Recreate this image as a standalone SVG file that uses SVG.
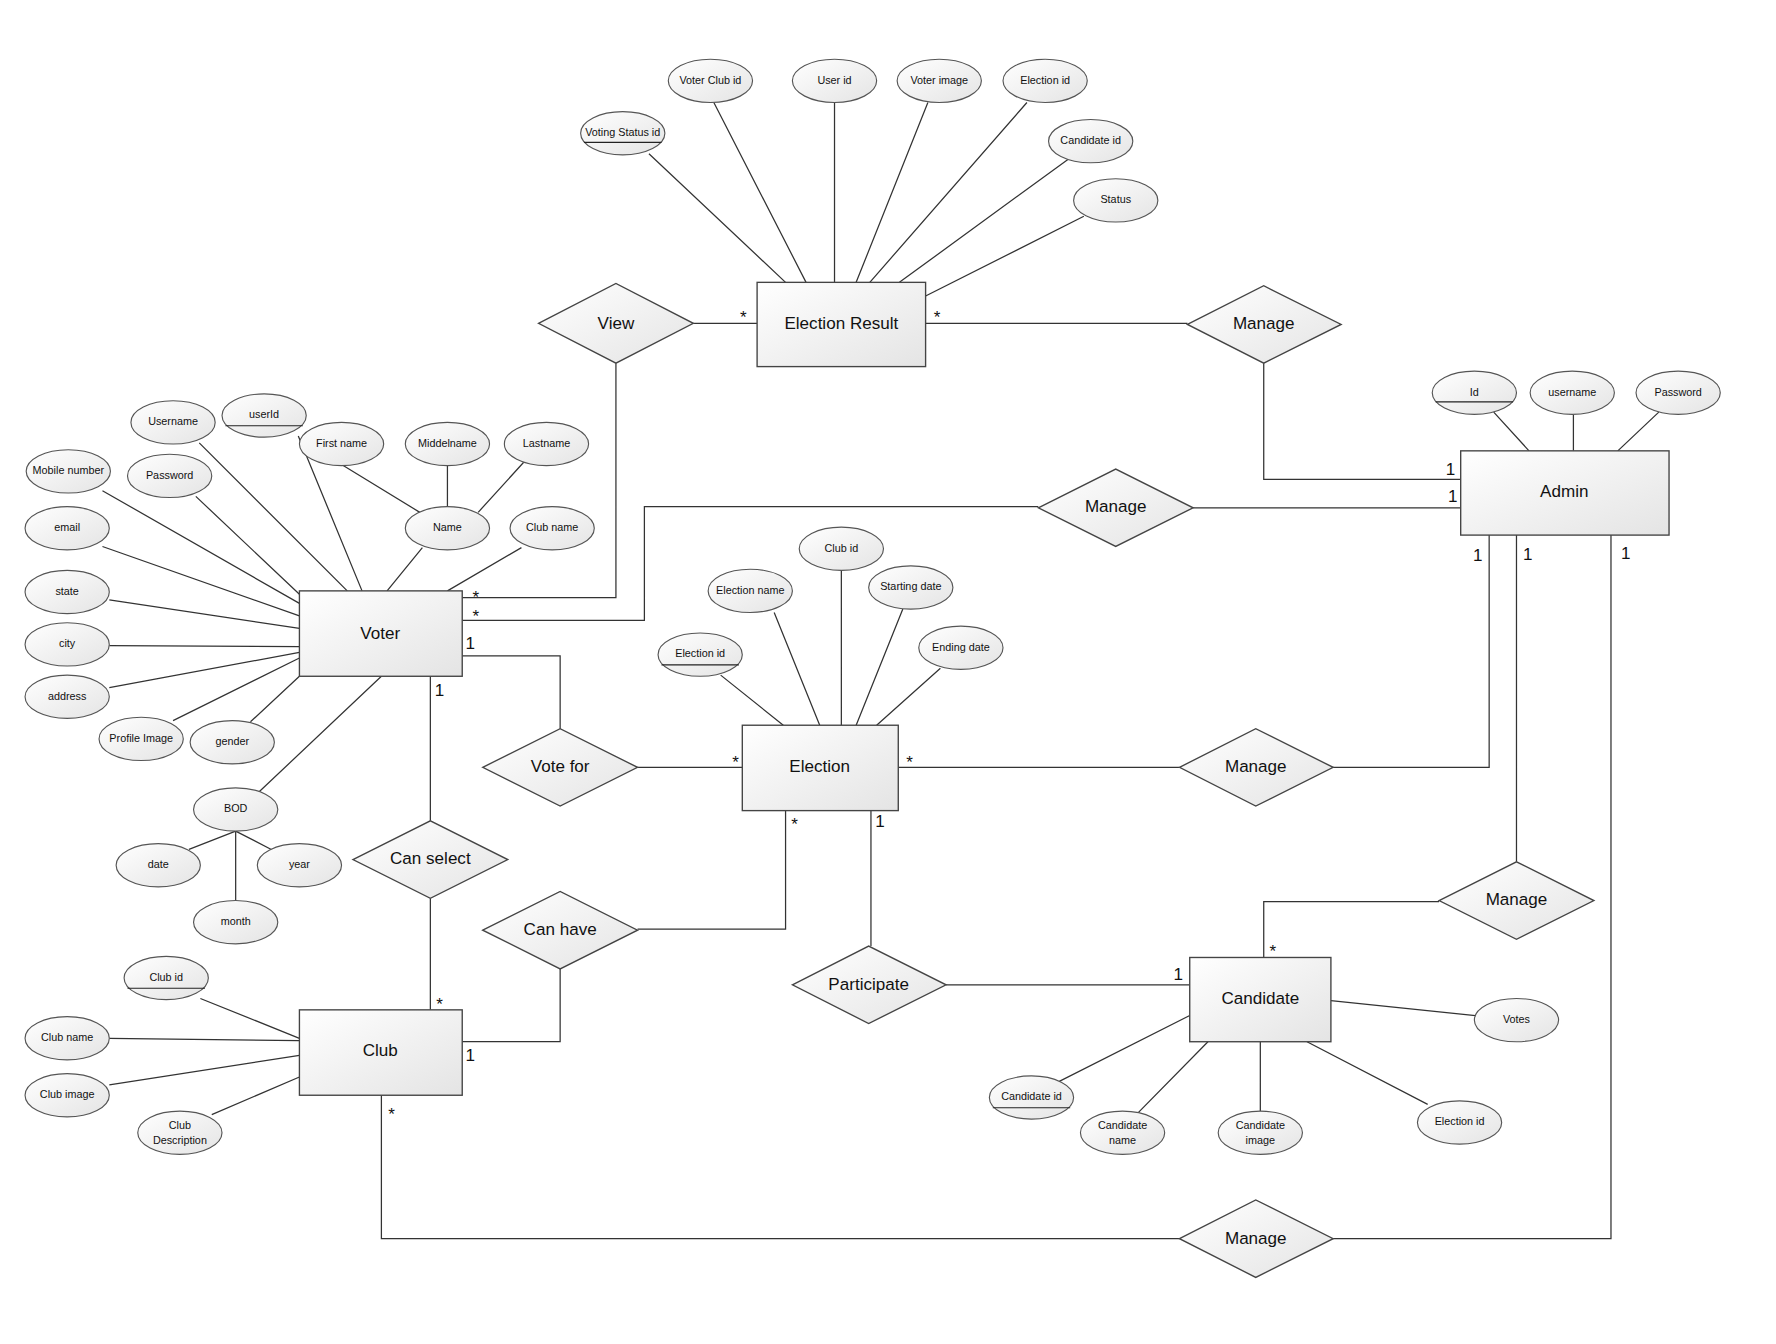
<svg xmlns="http://www.w3.org/2000/svg" width="1776" height="1344" viewBox="0 0 1776 1344">
<style>
.e{fill:url(#g);stroke:#444;stroke-width:1.2}
.a{fill:url(#g);stroke:#555;stroke-width:1}
.t{font-family:"Liberation Sans",Arial,sans-serif;font-size:15px;fill:#111;text-anchor:middle;dominant-baseline:middle}
.s{font-family:"Liberation Sans",Arial,sans-serif;font-size:9.5px;fill:#111;text-anchor:middle;dominant-baseline:middle}
.c{fill:none;stroke:#333;stroke-width:1.1}
.m{font-family:"Liberation Sans",Arial,sans-serif;font-size:15px;fill:#111;text-anchor:middle}
.u{stroke:#222;stroke-width:1}
</style>
<defs>
<linearGradient id="g" x1="0" y1="0" x2="1" y2="1"><stop offset="0" stop-color="#ffffff"/><stop offset="1" stop-color="#e4e4e4"/></linearGradient>
</defs>
<rect width="1776" height="1344" fill="#fff"/>
<g transform="scale(1.1385)">
<g id="connectors">
<path class="c" d="M570,135L690,248M627,90L708,248M733,90L733,248M815,90L752,248M902,90L764,248M938,140L790,248M952,190L813,260"/>
<path class="c" d="M1312,362L1343,396M1382,364L1382,396M1457,362L1421,396"/>
<path class="c" d="M175,389L305,519M262,383L318,519M371,481L340,519M458,481L393,519M90,431L263,530M172,436L263,522M90,480L263,541M96,527L263,552M96,567L263,568M96,604L263,573M152,633L263,578M220,634L263,594M226,697L335,594M300,408L372,452M393,409L393,445M460,406L420,450M207,730L166,746M207,730L207,791M207,730L240,747"/>
<path class="c" d="M633,593L688,637M680,538L720,637M739,501L739,637M793,535L752,637M826,587L770,637"/>
<path class="c" d="M930,950L1045,892M1000,977L1061,915M1107,976L1107,915M1254,970L1148,915M1296,892L1169,879"/>
<path class="c" d="M176,877L263,912M96,912L263,914M96,953L263,927M186,979L263,946"/>
<path class="c" d="M609,284H665M813,284H1043M1110,319V421H1283M541,319V525H406M912,445H566V545H406M1048,446H1283M406,576H492V640M560,674H652M789,674H1036M1171,674H1308V470M378,594V721M378,789V887M406,915H492V851M560,816H690V712M765,712V831M831,865H1045M1110,841V792H1264M1332,757V470M335,962V1088H1036M1171,1088H1415V470"/>
<g class="m">
<text x="653" y="284">*</text><text x="823" y="284">*</text><text x="1274" y="417">1</text><text x="418" y="530">*</text><text x="418" y="546">*</text><text x="1276" y="441">1</text><text x="413" y="570">1</text><text x="646" y="675">*</text><text x="799" y="675">*</text><text x="1298" y="493">1</text><text x="386" y="611">1</text><text x="386" y="887">*</text><text x="413" y="932">1</text><text x="698" y="729">*</text><text x="773" y="726">1</text><text x="1035" y="861">1</text><text x="1118" y="841">*</text><text x="1342" y="492">1</text><text x="344" y="984">*</text><text x="1428" y="491">1</text>
</g>
</g>
<g id="election-result"><rect class="e" x="665" y="248" width="148" height="74"/><text class="t" x="739" y="285">Election Result</text></g>
<g id="admin"><rect class="e" x="1283" y="396" width="183" height="74"/><text class="t" x="1374" y="433">Admin</text></g>
<g id="voter"><rect class="e" x="263" y="519" width="143" height="75"/><text class="t" x="334" y="557">Voter</text></g>
<g id="election"><rect class="e" x="652" y="637" width="137" height="75"/><text class="t" x="720" y="674">Election</text></g>
<g id="club"><rect class="e" x="263" y="887" width="143" height="75"/><text class="t" x="334" y="924">Club</text></g>
<g id="candidate"><rect class="e" x="1045" y="841" width="124" height="74"/><text class="t" x="1107" y="878">Candidate</text></g>
<g id="view"><polygon class="e" points="473,284 541,249 609,284 541,319"/><text class="t" x="541" y="285">View</text></g>
<g id="manage-result"><polygon class="e" points="1043,285 1110,251 1178,285 1110,319"/><text class="t" x="1110" y="285">Manage</text></g>
<g id="manage-voter"><polygon class="e" points="912,446 980,412 1048,446 980,480"/><text class="t" x="980" y="446">Manage</text></g>
<g id="vote-for"><polygon class="e" points="424,674 492,640 560,674 492,708"/><text class="t" x="492" y="674">Vote for</text></g>
<g id="manage-election"><polygon class="e" points="1036,674 1103,640 1171,674 1103,708"/><text class="t" x="1103" y="674">Manage</text></g>
<g id="can-select"><polygon class="e" points="310,755 378,721 446,755 378,789"/><text class="t" x="378" y="755">Can select</text></g>
<g id="can-have"><polygon class="e" points="424,817 492,783 560,817 492,851"/><text class="t" x="492" y="817">Can have</text></g>
<g id="manage-candidate"><polygon class="e" points="1264,791 1332,757 1400,791 1332,825"/><text class="t" x="1332" y="791">Manage</text></g>
<g id="participate"><polygon class="e" points="696,865 763,831 831,865 763,899"/><text class="t" x="763" y="866">Participate</text></g>
<g id="manage-club"><polygon class="e" points="1036,1088 1103,1054 1171,1088 1103,1122"/><text class="t" x="1103" y="1089">Manage</text></g>
<g id="attr-voting-status-id"><ellipse class="a" cx="547" cy="117" rx="37" ry="19"/><line class="u" x1="513" y1="125" x2="581" y2="125"/><text class="s" x="547" y="117">Voting Status id</text></g>
<g id="attr-voter-club-id"><ellipse class="a" cx="624" cy="71" rx="37" ry="19"/><text class="s" x="624" y="71">Voter Club id</text></g>
<g id="attr-user-id"><ellipse class="a" cx="733" cy="71" rx="37" ry="19"/><text class="s" x="733" y="71">User id</text></g>
<g id="attr-voter-image"><ellipse class="a" cx="825" cy="71" rx="37" ry="19"/><text class="s" x="825" y="71">Voter image</text></g>
<g id="attr-er-election-id"><ellipse class="a" cx="918" cy="71" rx="37" ry="19"/><text class="s" x="918" y="71">Election id</text></g>
<g id="attr-er-candidate-id"><ellipse class="a" cx="958" cy="124" rx="37" ry="19"/><text class="s" x="958" y="124">Candidate id</text></g>
<g id="attr-status"><ellipse class="a" cx="980" cy="176" rx="37" ry="19"/><text class="s" x="980" y="176">Status</text></g>
<g id="attr-admin-id"><ellipse class="a" cx="1295" cy="345" rx="37" ry="19"/><line class="u" x1="1261" y1="353" x2="1329" y2="353"/><text class="s" x="1295" y="345">Id</text></g>
<g id="attr-admin-username"><ellipse class="a" cx="1381" cy="345" rx="37" ry="19"/><text class="s" x="1381" y="345">username</text></g>
<g id="attr-admin-password"><ellipse class="a" cx="1474" cy="345" rx="37" ry="19"/><text class="s" x="1474" y="345">Password</text></g>
<g id="attr-username"><ellipse class="a" cx="152" cy="371" rx="37" ry="19"/><text class="s" x="152" y="371">Username</text></g>
<g id="attr-userid"><ellipse class="a" cx="232" cy="365" rx="37" ry="19"/><line class="u" x1="198" y1="374" x2="266" y2="374"/><text class="s" x="232" y="365">userId</text></g>
<g id="attr-first-name"><ellipse class="a" cx="300" cy="390" rx="37" ry="19"/><text class="s" x="300" y="390">First name</text></g>
<g id="attr-middelname"><ellipse class="a" cx="393" cy="390" rx="37" ry="19"/><text class="s" x="393" y="390">Middelname</text></g>
<g id="attr-lastname"><ellipse class="a" cx="480" cy="390" rx="37" ry="19"/><text class="s" x="480" y="390">Lastname</text></g>
<g id="attr-mobile"><ellipse class="a" cx="60" cy="414" rx="37" ry="19"/><text class="s" x="60" y="414">Mobile number</text></g>
<g id="attr-password"><ellipse class="a" cx="149" cy="418" rx="37" ry="19"/><text class="s" x="149" y="418">Password</text></g>
<g id="attr-name"><ellipse class="a" cx="393" cy="464" rx="37" ry="19"/><text class="s" x="393" y="464">Name</text></g>
<g id="attr-voter-club-name"><ellipse class="a" cx="485" cy="464" rx="37" ry="19"/><text class="s" x="485" y="464">Club name</text></g>
<g id="attr-email"><ellipse class="a" cx="59" cy="464" rx="37" ry="19"/><text class="s" x="59" y="464">email</text></g>
<g id="attr-state"><ellipse class="a" cx="59" cy="520" rx="37" ry="19"/><text class="s" x="59" y="520">state</text></g>
<g id="attr-city"><ellipse class="a" cx="59" cy="566" rx="37" ry="19"/><text class="s" x="59" y="566">city</text></g>
<g id="attr-address"><ellipse class="a" cx="59" cy="612" rx="37" ry="19"/><text class="s" x="59" y="612">address</text></g>
<g id="attr-profile-image"><ellipse class="a" cx="124" cy="649" rx="37" ry="19"/><text class="s" x="124" y="649">Profile Image</text></g>
<g id="attr-gender"><ellipse class="a" cx="204" cy="652" rx="37" ry="19"/><text class="s" x="204" y="652">gender</text></g>
<g id="attr-bod"><ellipse class="a" cx="207" cy="711" rx="37" ry="19"/><text class="s" x="207" y="711">BOD</text></g>
<g id="attr-date"><ellipse class="a" cx="139" cy="760" rx="37" ry="19"/><text class="s" x="139" y="760">date</text></g>
<g id="attr-year"><ellipse class="a" cx="263" cy="760" rx="37" ry="19"/><text class="s" x="263" y="760">year</text></g>
<g id="attr-month"><ellipse class="a" cx="207" cy="810" rx="37" ry="19"/><text class="s" x="207" y="810">month</text></g>
<g id="attr-election-id"><ellipse class="a" cx="615" cy="575" rx="37" ry="19"/><line class="u" x1="581" y1="584" x2="649" y2="584"/><text class="s" x="615" y="575">Election id</text></g>
<g id="attr-election-name"><ellipse class="a" cx="659" cy="519" rx="37" ry="19"/><text class="s" x="659" y="519">Election name</text></g>
<g id="attr-club-id-e"><ellipse class="a" cx="739" cy="482" rx="37" ry="19"/><text class="s" x="739" y="482">Club id</text></g>
<g id="attr-starting-date"><ellipse class="a" cx="800" cy="516" rx="37" ry="19"/><text class="s" x="800" y="516">Starting date</text></g>
<g id="attr-ending-date"><ellipse class="a" cx="844" cy="569" rx="37" ry="19"/><text class="s" x="844" y="569">Ending date</text></g>
<g id="attr-candidate-id"><ellipse class="a" cx="906" cy="964" rx="37" ry="19"/><line class="u" x1="872" y1="973" x2="940" y2="973"/><text class="s" x="906" y="964">Candidate id</text></g>
<g id="attr-candidate-name"><ellipse class="a" cx="986" cy="995" rx="37" ry="19"/><text class="s" x="986" y="989">Candidate</text><text class="s" x="986" y="1002">name</text></g>
<g id="attr-candidate-image"><ellipse class="a" cx="1107" cy="995" rx="37" ry="19"/><text class="s" x="1107" y="989">Candidate</text><text class="s" x="1107" y="1002">image</text></g>
<g id="attr-c-election-id"><ellipse class="a" cx="1282" cy="986" rx="37" ry="19"/><text class="s" x="1282" y="986">Election id</text></g>
<g id="attr-votes"><ellipse class="a" cx="1332" cy="896" rx="37" ry="19"/><text class="s" x="1332" y="896">Votes</text></g>
<g id="attr-club-id"><ellipse class="a" cx="146" cy="859" rx="37" ry="19"/><line class="u" x1="112" y1="868" x2="180" y2="868"/><text class="s" x="146" y="859">Club id</text></g>
<g id="attr-club-name"><ellipse class="a" cx="59" cy="912" rx="37" ry="19"/><text class="s" x="59" y="912">Club name</text></g>
<g id="attr-club-image"><ellipse class="a" cx="59" cy="962" rx="37" ry="19"/><text class="s" x="59" y="962">Club image</text></g>
<g id="attr-club-description"><ellipse class="a" cx="158" cy="995" rx="37" ry="19"/><text class="s" x="158" y="989">Club</text><text class="s" x="158" y="1002">Description</text></g>
</g>
</svg>
